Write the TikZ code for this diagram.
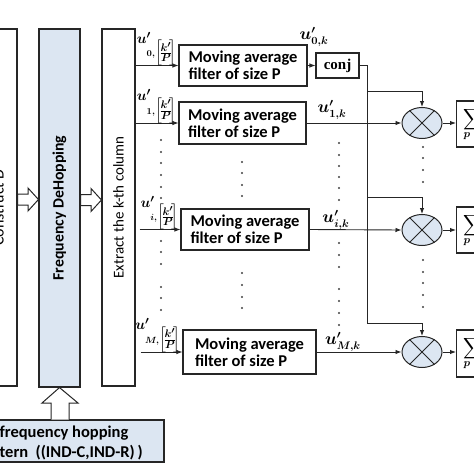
\documentclass[tikz,border=0pt]{standalone}
\usepackage{amsmath,bm}
\usepackage{fontspec}
\newfontfamily\carlito{Carlito}
\newfontfamily\tnr{Liberation Serif}
\DeclareMathSizes{15}{15}{11}{9}
\usetikzlibrary{arrows.meta,shapes.geometric,calc}
\definecolor{lblue}{HTML}{DCE6F2}
\definecolor{edge}{HTML}{262626}
\newcommand{\kp}{\mbox{$\left[\!\frac{\bm{k'}}{\bm{P}}\!\right]$}}
\begin{document}
\begin{tikzpicture}[x=1pt,y=-1pt,
  >={Latex[length=6pt,width=4.5pt]},
  box/.style={draw=edge,line width=1.1pt,fill=white,inner sep=0pt},
  bluebox/.style={box,fill=lblue},
  conn/.style={draw=edge,line width=0.9pt,->},
  wire/.style={draw=edge,line width=0.9pt},
  vtext/.style={rotate=90,font=\carlito\fontsize{15}{18}\selectfont},
  filt/.style={box,align=left,font=\carlito\bfseries\fontsize{16.5}{17}\selectfont},
  mult/.style={ellipse,draw=edge,line width=1pt,fill=lblue,minimum width=40pt,minimum height=31pt,inner sep=0pt},
  hollow/.style={draw=edge,line width=1pt,fill=white,line join=miter},
  lab/.style={inner sep=0pt,font=\fontsize{15}{17}\selectfont},
  olab/.style={inner sep=0pt,font=\fontsize{16}{18}\selectfont},
  dotc/.style={fill=black!75}]
\useasboundingbox (0,0) rectangle (474,474);
\clip (0,0) rectangle (474,474);

% vertical blocks
\node[box,minimum width=41pt,minimum height=357pt] (cd) at (-3.5,207.5) {};
\node[vtext,font=\carlito\fontsize{16}{18}\selectfont] (cdt) at (-1.5,207.5) {Construct D};
\node[bluebox,minimum width=41pt,minimum height=358pt] (fd) at (59.5,208) {};
\node[vtext,font=\carlito\bfseries\fontsize{15.8}{19}\selectfont] (fdt) at (fd.center) {Frequency DeHopping};
\node[box,minimum width=33pt,minimum height=357pt] (ex) at (118.5,207.5) {};
\node[vtext] (ext) at (ex.center) {Extract the k-th column};

% bottom block
\node[bluebox,minimum width=180pt,minimum height=42pt] (fh) at (74,441) {};
\node[anchor=west,align=left,inner sep=0pt,font=\carlito\bfseries\fontsize{16.5}{20}\selectfont] (fht) at (-0.5,443) {frequency hopping\\tern\ \ ((IND-C,IND-R)\,)};

% hollow arrows
\draw[hollow] (cd.east |- 0,194) -- (28,194) -- (28,188) -- (fd.west |- 0,199.5) -- (28,211) -- (28,205) -- (cd.east |- 0,205) -- cycle;
\draw[hollow] (fd.east |- 0,194.5) -- (91,194.5) -- (91,188.5) -- (ex.west |- 0,200) -- (91,211.5) -- (91,205.5) -- (fd.east |- 0,205.5) -- cycle;
\draw[hollow] (51,419.5) -- (51,403) -- (42,403) -- (fd.south) -- (78,403) -- (69,403) -- (69,419.5);

% filters
\node[filt,minimum width=128pt,minimum height=41pt] (f0) at (243,65.5) {Moving average\\filter of size P};
\node[filt,minimum width=127pt,minimum height=42pt] (f1) at (242.5,123) {Moving average\\filter of size P};
\node[filt,minimum width=128pt,minimum height=41pt] (fi) at (245,229.5) {Moving average\\filter of size P};
\node[filt,minimum width=133pt,minimum height=44pt] (fM) at (249.5,352) {Moving average\\filter of size P};

\draw[conn] (ex.east |- f0.west) -- (f0.west);
\draw[conn] (ex.east |- f1.west) -- (f1.west);
\draw[conn] ($(ex.east |- fi.west)+(4,0)$) -- (fi.west);
\draw[conn] ($(ex.east |- fM.west)+(5,0)$) -- (fM.west);

\node[lab,anchor=south east] (l0) at ($(f0.west)+(-1,1)$) {$\bm{u'}_{\scriptscriptstyle\bm{0,}\kp}$};
\node[lab,anchor=south east] (l1) at ($(f1.west)+(-1,1)$) {$\bm{u'}_{\scriptscriptstyle\bm{1,}\kp}$};
\node[lab,anchor=south east] (li) at ($(fi.west)+(-1,1)$) {$\bm{u'}_{\scriptscriptstyle\bm{i,}\kp}$};
\node[lab,anchor=south east] (lM) at ($(fM.west)+(-1,1)$) {$\bm{u'}_{\scriptscriptstyle\bm{M,}\kp}$};

% conj
\node[box,minimum width=43pt,minimum height=25pt,font=\tnr\bfseries\fontsize{15}{17}\selectfont] (cj) at (337.5,65.5) {conj};
\draw[conn] (f0.east) -- (cj.west);
\node[olab] (o0) at (314,37) {$\bm{u'_{0,k}}$};

% multipliers
\node[mult] (m1) at (422,123) {};
\node[mult] (mi) at (422,230) {};
\node[mult] (mM) at (422,352) {};
\foreach \m in {m1,mi,mM} {
  \draw[wire] (\m.45) -- (\m.225) (\m.135) -- (\m.315);
}
\draw[conn] (f1.east) -- (m1.west);
\draw[conn] (fi.east) -- (mi.west);
\draw[conn] (fM.east) -- (mM.west);
\node[olab] (o1) at (332,110) {$\bm{u'_{1,k}}$};
\node[olab] (oi) at (336,220) {$\bm{u'_{i,k}}$};
\node[olab] (oM) at (343,342) {$\bm{u'_{M,k}}$};

% conj bus
\coordinate (b0) at ($(cj.east)+(8,0)$);
\coordinate (b3) at (b0 |- 0,323);
\draw[conn] (cj.east) -- (b0) -- (b3) -| (mM.north);
\draw[conn] (b0 |- 0,91) -| (m1.north);
\draw[conn] (b0 |- 0,197) -| (mi.north);

% right boxes
\node[box,anchor=west,minimum width=70pt,minimum height=46pt] (r1) at (456,124) {};
\node[box,anchor=west,minimum width=70pt,minimum height=46pt] (r2) at (456,230) {};
\node[box,anchor=west,minimum width=70pt,minimum height=47pt] (r3) at (456,353.5) {};
\draw[conn] (m1.east) -- (m1.east -| r1.west);
\draw[conn] (mi.east) -- (mi.east -| r2.west);
\draw[conn] (mM.east) -- (mM.east -| r3.west);
\foreach \r in {r1,r2,r3} {
  \node[anchor=north west,inner sep=0pt] (s\r) at ($(\r.north west)+(7,7)$) {\scalebox{1.45}{$\displaystyle\sum$}};
  \node[anchor=north west,inner sep=0pt,font=\fontsize{11}{12}\selectfont] (p\r) at ($(s\r.south west)+(0.5,1.5)$) {$\bm{p}$};
}

% dots
\foreach \y in {140,152,163,175,187,198,241,252,264,287,298,310} \fill[dotc] (161,\y) circle (1.1pt);
\foreach \y in {162,173,185,196,273,285,297,308} \fill[dotc] (242,\y) circle (1.1pt);
\foreach \y in {143,155,166,177,188,200,243,255,267,289,301,313,325} \fill[dotc] (339,\y) circle (1.1pt);
\foreach \y in {147,158,170,182,260,272,283,295,307} \fill[dotc] (423,\y) circle (1.1pt);
\end{tikzpicture}
\end{document}
